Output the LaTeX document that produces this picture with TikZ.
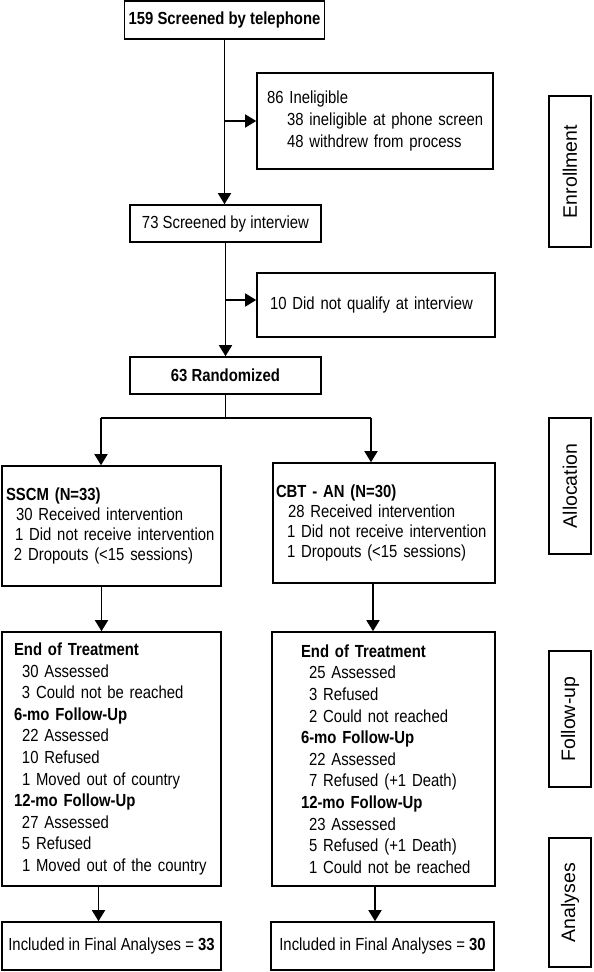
\documentclass[tikz,border=0pt]{standalone}
\usepackage{fontspec}
\setmainfont{Liberation Sans}
\newfontfamily\cond[FakeStretch=0.85]{Liberation Sans}
\usetikzlibrary{arrows.meta}
\tikzset{
  box/.style={draw, line width=1.6pt, rectangle, inner ysep=0pt, font=\cond\fontsize{17.5}{21.6}\selectfont},
  lbox/.style={box, align=left},
  cbox/.style={box, align=center},
  tag/.style={draw, line width=1.5pt, rectangle, inner sep=0pt, font=\fontsize{19.5}{22}\selectfont},
  arr/.style={line width=1.6pt, -{Triangle[length=11pt,width=13pt]}},
  ln/.style={line width=1.6pt}
}
\newcommand{\ind}[1]{\hspace*{#1pt}}
\begin{document}
\begin{tikzpicture}[x=1pt,y=-1pt]
\useasboundingbox (0,0) rectangle (594,972);
% main column
\node[cbox, minimum width=200pt, minimum height=38pt] (tel) at (224.5,20) {\bfseries 159 Screened by telephone};
\node[lbox, minimum width=236pt, minimum height=96pt, inner xsep=3pt, text width=230pt] (inel) at (375,121)
  {\ind{7}86 Ineligible\\\ind{27}38 ineligible at phone screen\\\ind{27}48 withdrew from process};
\node[cbox, minimum width=191pt, minimum height=37pt] (intv) at (225.5,223.5) {73 Screened by interview};
\node[lbox, minimum width=238pt, minimum height=64pt, inner xsep=13pt, text width=212pt] (dnq) at (376,305)
  {10 Did not qualify at interview};
\node[cbox, minimum width=191pt, minimum height=37pt] (rand) at (225.5,375.5) {\bfseries 63 Randomized};
% allocation
\node[lbox, minimum width=219pt, minimum height=120pt, inner xsep=4pt, text width=211pt] (sscm) at (111.5,526)
  {\textbf{SSCM (N=33)}\\[-1.5pt]\ind{10}30 Received intervention\\[-1.5pt]\ind{9}1 Did not receive intervention\\[-1.5pt]\ind{8}2 Dropouts (<15 sessions)};
\node[lbox, minimum width=222pt, minimum height=120pt, inner xsep=3pt, text width=216pt] (cbt) at (384,523)
  {\textbf{CBT - AN (N=30)}\\[-1.5pt]\ind{12}28 Received intervention\\[-1.5pt]\ind{11}1 Did not receive intervention\\[-1.5pt]\ind{11}1 Dropouts (<15 sessions)};
% follow-up
\node[lbox, minimum width=219pt, minimum height=254pt, inner xsep=12pt, text width=195pt] (fl) at (111.5,759)
  {\textbf{End of Treatment}\\\ind{8}30 Assessed\\\ind{8}3 Could not be reached\\\textbf{6-mo Follow-Up}\\\ind{8}22 Assessed\\\ind{8}10 Refused\\\ind{8}1 Moved out of country\\\textbf{12-mo Follow-Up}\\\ind{8}27 Assessed\\\ind{8}5 Refused\\\ind{8}1 Moved out of the country};
\node[lbox, minimum width=223pt, minimum height=254pt, inner xsep=3pt, text width=217pt] (fr) at (383.5,759)
  {\ind{26}\textbf{End of Treatment}\\\ind{34}25 Assessed\\\ind{34}3 Refused\\\ind{34}2 Could not reached\\\ind{26}\textbf{6-mo Follow-Up}\\\ind{34}22 Assessed\\\ind{34}7 Refused (+1 Death)\\\ind{26}\textbf{12-mo Follow-Up}\\\ind{34}23 Assessed\\\ind{34}5 Refused (+1 Death)\\\ind{34}1 Could not be reached};
% analyses
\node[cbox, minimum width=219pt, minimum height=48pt, inner xsep=2pt] (finl) at (111.5,946) {Included in Final Analyses = \textbf{33}};
\node[cbox, minimum width=223pt, minimum height=48pt, inner xsep=2pt] (finr) at (382.5,946) {Included in Final Analyses = \textbf{30}};
% stage labels
\node[tag, minimum width=42pt, minimum height=151pt] (enr) at (570,171.5) {};
\node[rotate=90, font=\fontsize{19.5}{22}\selectfont] (enrt) at (enr.center) {Enrollment};
\node[tag, minimum width=42pt, minimum height=136pt] (alc) at (570,486) {};
\node[rotate=90, font=\fontsize{19.5}{22}\selectfont] (alct) at (alc.center) {Allocation};
\node[tag, minimum width=42pt, minimum height=136pt] (fu) at (570,719) {};
\node[rotate=90, font=\fontsize{19.5}{22}\selectfont] (fut) at (fu.center) {Follow-up};
\node[tag, minimum width=42pt, minimum height=129pt] (an) at (570,902.5) {};
\node[rotate=90, font=\fontsize{19.5}{22}\selectfont] (ant) at (an.center) {Analyses};
% coordinates
\coordinate (bl) at (101,418);
\coordinate (br) at (371,418);
\coordinate (cl) at (101.5,0);
\coordinate (cr) at (373,0);
\coordinate (dl) at (98.5,0);
\coordinate (dr) at (375,0);
% connectors
\draw[arr] (tel.south) -- (tel.south |- intv.north);
\draw[arr] (tel.south |- inel.west) -- (inel.west);
\draw[arr] (intv.south) -- (intv.south |- rand.north);
\draw[arr] ([yshift=5pt]intv.south |- dnq.west) -- ([yshift=5pt]dnq.west);
\draw[ln] (rand.south) -- (rand.south |- bl);
\draw[ln] (bl) -- (br);
\draw[arr] (bl) -- (bl |- sscm.north);
\draw[arr] (br) -- (br |- cbt.north);
\draw[arr] (sscm.south -| cl) -- (fl.north -| cl);
\draw[arr] (cbt.south -| cr) -- (fr.north -| cr);
\draw[arr] (fl.south -| dl) -- (finl.north -| dl);
\draw[arr] (fr.south -| dr) -- (finr.north -| dr);
\end{tikzpicture}
\end{document}
